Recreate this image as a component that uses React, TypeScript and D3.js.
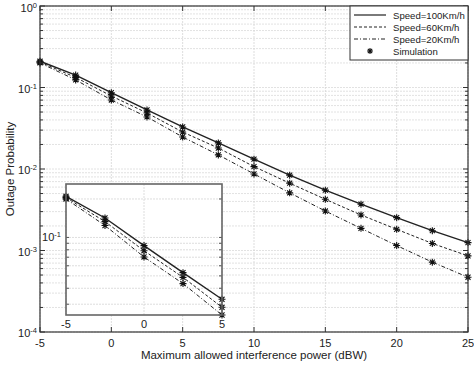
import React, { useRef, useEffect } from 'react';
import * as d3 from 'd3';

const power = [-5, -2.5, 0, 2.5, 5, 7.5, 10, 12.5, 15, 17.5, 20, 22.5, 25];
const speed100 = [0.21, 0.142, 0.0863, 0.053, 0.0328, 0.0209, 0.0132, 0.0084, 0.0055, 0.0037, 0.00253, 0.00175, 0.00125];
const speed60 = [0.205, 0.133, 0.0787, 0.0487, 0.0284, 0.0181, 0.0107, 0.0067, 0.00425, 0.00273, 0.00182, 0.00122, 0.00086];
const speed20 = [0.2, 0.124, 0.0703, 0.0435, 0.0247, 0.0149, 0.0087, 0.0051, 0.00305, 0.00187, 0.00115, 0.00072, 0.00047];
const seriesNames = ['Speed=100Km/h', 'Speed=60Km/h', 'Speed=20Km/h'];
const xTicks = [-5, 0, 5, 10, 15, 20, 25];
const yExps = [0, -1, -2, -3, -4];
const insetXTicks = [-5, 0, 5];

const W = 474;
const H = 366;
const FONT = 'Liberation Sans, Arial, sans-serif';

const App: React.FC = () => {
  const svgRef = useRef<SVGSVGElement>(null);

  useEffect(() => {
    if (!svgRef.current) return;
    const svg = d3.select(svgRef.current);
    svg.selectAll('*').remove();

    const series = [speed100, speed60, speed20];
    const dashes = [null, '3,2', '4,2,1,2'];

    // minor log values between lo and hi
    const logGrid = (lo: number, hi: number) => {
      const vals: number[] = [];
      for (let e = -5; e <= 0; e++) {
        for (let m = 1; m <= 9; m++) {
          const v = m * Math.pow(10, e);
          if (v >= lo * 0.9999 && v <= hi * 1.0001) vals.push(v);
        }
      }
      return vals;
    };

    const star = (g: d3.Selection<SVGGElement, unknown, null, undefined>, cx: number, cy: number, r: number) => {
      const d = r * 0.72;
      g.append('path')
        .attr('d', `M${cx - r},${cy}H${cx + r}M${cx},${cy - r}V${cy + r}M${cx - d},${cy - d}L${cx + d},${cy + d}M${cx - d},${cy + d}L${cx + d},${cy - d}`)
        .attr('stroke', '#111')
        .attr('stroke-width', 1.1)
        .attr('fill', 'none');
    };

    const pow10 = (g: d3.Selection<SVGGElement, unknown, null, undefined>, x: number, y: number, exp: number, anchor: string) => {
      const t = g.append('text')
        .attr('x', x)
        .attr('y', y)
        .attr('text-anchor', anchor)
        .attr('font-family', FONT)
        .attr('font-size', 11)
        .attr('fill', '#222');
      t.append('tspan').text('10');
      t.append('tspan').attr('dy', -4).attr('font-size', 7.5).text(String(exp));
    };

    // ---- Main axes ----
    const m = { left: 40, right: 468, top: 6, bottom: 332 };
    const x = d3.scaleLinear().domain([-5, 25]).range([m.left, m.right]);
    const y = d3.scaleLog().domain([1e-4, 1]).range([m.bottom, m.top]);

    const main = svg.append('g');
    main.append('rect')
      .attr('x', m.left).attr('y', m.top)
      .attr('width', m.right - m.left).attr('height', m.bottom - m.top)
      .attr('fill', '#fff');

    // grid
    logGrid(1e-4, 1).forEach(v => {
      main.append('line')
        .attr('x1', m.left).attr('x2', m.right)
        .attr('y1', y(v)).attr('y2', y(v))
        .attr('stroke', '#dadada').attr('stroke-width', 0.8)
        .attr('stroke-dasharray', '2,1');
    });
    xTicks.forEach(t => {
      main.append('line')
        .attr('x1', x(t)).attr('x2', x(t))
        .attr('y1', m.top).attr('y2', m.bottom)
        .attr('stroke', '#d4d4d4').attr('stroke-width', 0.8)
        .attr('stroke-dasharray', '2,1');
    });

    // lines
    series.forEach((s, i) => {
      const line = d3.line<number>().x((_, j) => x(power[j])).y(v => y(v));
      main.append('path')
        .attr('d', line(s))
        .attr('fill', 'none')
        .attr('stroke', '#222')
        .attr('stroke-width', i === 0 ? 1.4 : 1)
        .attr('stroke-dasharray', dashes[i]);
    });
    series.forEach(s => s.forEach((v, j) => star(main, x(power[j]), y(v), 3.5)));

    // ticks
    logGrid(1e-4, 1).forEach(v => {
      const major = Math.abs(Math.log10(v) - Math.round(Math.log10(v))) < 1e-6;
      const len = major ? 5 : 3;
      main.append('line').attr('x1', m.left).attr('x2', m.left + len)
        .attr('y1', y(v)).attr('y2', y(v)).attr('stroke', '#333');
      main.append('line').attr('x1', m.right).attr('x2', m.right - len)
        .attr('y1', y(v)).attr('y2', y(v)).attr('stroke', '#333');
    });
    xTicks.forEach(t => {
      main.append('line').attr('x1', x(t)).attr('x2', x(t))
        .attr('y1', m.bottom).attr('y2', m.bottom - 5).attr('stroke', '#333');
      main.append('line').attr('x1', x(t)).attr('x2', x(t))
        .attr('y1', m.top).attr('y2', m.top + 5).attr('stroke', '#333');
      main.append('text')
        .attr('x', x(t)).attr('y', m.bottom + 15)
        .attr('text-anchor', 'middle')
        .attr('font-family', FONT).attr('font-size', 11).attr('fill', '#222')
        .text(String(t));
    });
    yExps.forEach(e => pow10(main, 37, y(Math.pow(10, e)) + (e === 0 ? 6 : 5), e, 'end'));

    main.append('rect')
      .attr('x', m.left).attr('y', m.top)
      .attr('width', m.right - m.left).attr('height', m.bottom - m.top)
      .attr('fill', 'none').attr('stroke', '#333').attr('stroke-width', 1.2);

    main.append('text')
      .attr('x', (m.left + m.right) / 2).attr('y', 359)
      .attr('text-anchor', 'middle')
      .attr('font-family', FONT).attr('font-size', 11.5).attr('fill', '#222')
      .text('Maximum allowed interference power (dBW)');
    main.append('text')
      .attr('transform', `translate(14,${(m.top + m.bottom) / 2}) rotate(-90)`)
      .attr('text-anchor', 'middle')
      .attr('font-family', FONT).attr('font-size', 11.5).attr('fill', '#222')
      .text('Outage Probability');

    // ---- Legend ----
    const lg = svg.append('g');
    lg.append('rect')
      .attr('x', 350).attr('y', m.top)
      .attr('width', m.right - 350).attr('height', 54)
      .attr('fill', '#fff').attr('stroke', '#333').attr('stroke-width', 1);
    const rowY = [15, 27, 39, 51];
    seriesNames.forEach((n, i) => {
      lg.append('line')
        .attr('x1', 354).attr('x2', 386)
        .attr('y1', rowY[i]).attr('y2', rowY[i])
        .attr('stroke', '#222').attr('stroke-width', i === 0 ? 1.2 : 1)
        .attr('stroke-dasharray', dashes[i]);
      lg.append('text')
        .attr('x', 393).attr('y', rowY[i] + 4)
        .attr('font-family', FONT).attr('font-size', 9.6).attr('fill', '#222')
        .text(n);
    });
    star(lg, 370, rowY[3], 3);
    lg.append('text')
      .attr('x', 393).attr('y', rowY[3] + 4)
      .attr('font-family', FONT).attr('font-size', 9.6).attr('fill', '#222')
      .text('Simulation');

    // ---- Inset ----
    const im = { left: 66, right: 222, top: 184, bottom: 315 };
    const ix = d3.scaleLinear().domain([-5, 5]).range([im.left, im.right]);
    const iy = d3.scaleLog().domain([0.0247, 0.262]).range([im.bottom, im.top]);
    const n5 = power.filter(p => p <= 5).length;

    const inset = svg.append('g');
    inset.append('rect')
      .attr('x', im.left).attr('y', im.top)
      .attr('width', im.right - im.left).attr('height', im.bottom - im.top)
      .attr('fill', '#fff');
    logGrid(0.0247, 0.262).forEach(v => {
      inset.append('line')
        .attr('x1', im.left).attr('x2', im.right)
        .attr('y1', iy(v)).attr('y2', iy(v))
        .attr('stroke', '#d4d4d4').attr('stroke-width', 0.8)
        .attr('stroke-dasharray', '2,1');
      inset.append('line')
        .attr('x1', im.left).attr('x2', im.left + 3)
        .attr('y1', iy(v)).attr('y2', iy(v)).attr('stroke', '#555');
      inset.append('line')
        .attr('x1', im.right).attr('x2', im.right - 3)
        .attr('y1', iy(v)).attr('y2', iy(v)).attr('stroke', '#555');
    });
    insetXTicks.forEach(t => {
      inset.append('line')
        .attr('x1', ix(t)).attr('x2', ix(t))
        .attr('y1', im.top).attr('y2', im.bottom)
        .attr('stroke', '#d4d4d4').attr('stroke-width', 0.8)
        .attr('stroke-dasharray', '2,1');
      inset.append('text')
        .attr('x', ix(t)).attr('y', im.bottom + 13)
        .attr('text-anchor', 'middle')
        .attr('font-family', FONT).attr('font-size', 11).attr('fill', '#222')
        .text(String(t));
    });
    series.forEach((s, i) => {
      const pts = s.slice(0, n5);
      const line = d3.line<number>().x((_, j) => ix(power[j])).y(v => iy(v));
      inset.append('path')
        .attr('d', line(pts))
        .attr('fill', 'none')
        .attr('stroke', '#222')
        .attr('stroke-width', i === 0 ? 1.4 : 1)
        .attr('stroke-dasharray', dashes[i]);
    });
    series.forEach(s => s.slice(0, n5).forEach((v, j) => star(inset, ix(power[j]), iy(v), 3.5)));
    pow10(inset, 61, iy(0.1) + 4, -1, 'end');
    inset.append('rect')
      .attr('x', im.left).attr('y', im.top)
      .attr('width', im.right - im.left).attr('height', im.bottom - im.top)
      .attr('fill', 'none').attr('stroke', '#666').attr('stroke-width', 1.6);
  }, []);

  return (
    <svg
      ref={svgRef}
      width={W}
      height={H}
      style={{ position: 'absolute', left: 0, top: 0, background: '#fff' }}
    />
  );
};

export default App;
